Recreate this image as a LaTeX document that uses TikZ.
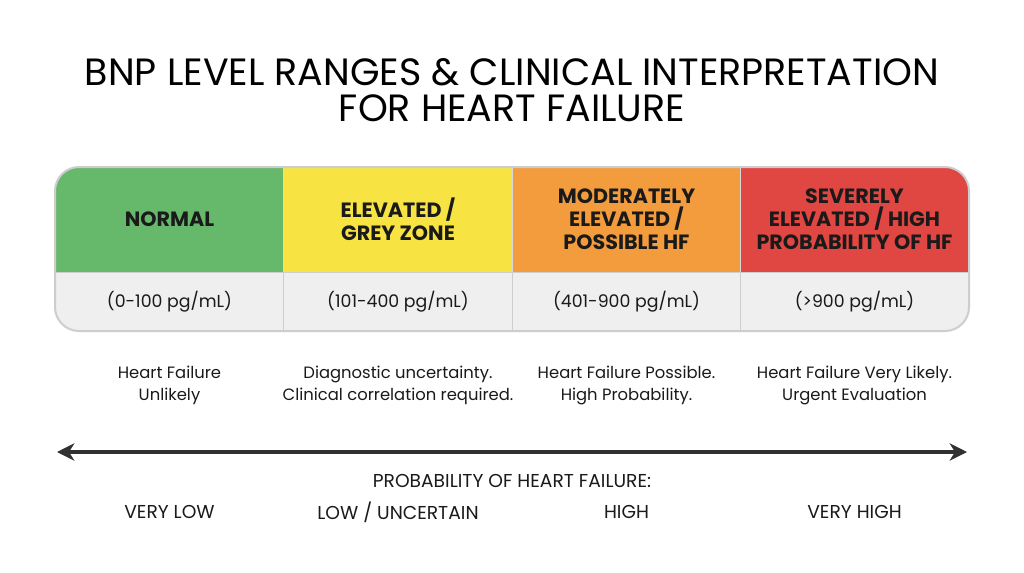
\documentclass[tikz,border=0pt]{standalone}
\usepackage{fontspec}
\setmainfont{Poppins}
\usetikzlibrary{arrows.meta}

\definecolor{normalgreen}{HTML}{66B96A}
\definecolor{zoneyellow}{HTML}{F7E443}
\definecolor{modorange}{HTML}{F39C3D}
\definecolor{sevred}{HTML}{E04743}
\definecolor{rowgrey}{HTML}{EFEFEF}
\definecolor{edgegrey}{HTML}{CDCDCD}
\definecolor{inkgrey}{HTML}{1A1A1A}

\begin{document}
\begin{tikzpicture}[x=0.75pt,y=0.75pt,yscale=-1,xscale=1,
    headcell/.style={minimum width=171.4pt, minimum height=78.75pt, inner sep=0pt, align=center,
      draw=white!85!black, line width=0.6pt, font=\fontsize{15.5}{17.3}\selectfont\bfseries, text=inkgrey},
    rangecell/.style={minimum width=171.4pt, minimum height=44.25pt, inner sep=0pt, fill=rowgrey,
      draw=edgegrey, line width=0.75pt, font=\fontsize{13}{15}\selectfont, text=inkgrey},
    notetext/.style={align=center, inner sep=0pt, font=\fontsize{12.3}{16.5}\selectfont, text=inkgrey},
    scaletext/.style={inner sep=0pt, font=\fontsize{14}{16}\selectfont, text=inkgrey}]
        \useasboundingbox[fill=white] (0,0) rectangle (1024,572);

        % Title
        \node[font=\fontsize{28.5}{27}\selectfont, text=black, align=center] (title) at (512,90)
          {BNP LEVEL RANGES \& CLINICAL INTERPRETATION\\FOR HEART FAILURE};

        % Table cells
        \begin{scope}
        \clip[rounded corners=18pt] (55,167) rectangle (969,331);
        \node[headcell, fill=normalgreen] (hdNormal) at (169.5,219.5) {NORMAL};
        \node[headcell, fill=zoneyellow] (hdGrey) at (398,219.5) {ELEVATED /\\GREY ZONE};
        \node[headcell, fill=modorange] (hdModerate) at (626.5,219.5) {MODERATELY\\ELEVATED /\\POSSIBLE HF};
        \node[headcell, fill=sevred] (hdSevere) at (854.5,219.5) {SEVERELY\\ELEVATED / HIGH\\PROBABILITY OF HF};
        \node[rangecell] (rgNormal) at (169.5,301.5) {(0-100 pg/mL)};
        \node[rangecell] (rgGrey) at (398,301.5) {(101-400 pg/mL)};
        \node[rangecell] (rgModerate) at (626.5,301.5) {(401-900 pg/mL)};
        \node[rangecell] (rgSevere) at (854.5,301.5) {(>900 pg/mL)};
        \end{scope}
        \draw[edgegrey, line width=1.5pt, rounded corners=18pt] (55,167) rectangle (969,331);

        % Interpretation notes
        \node[notetext] (ntNormal) at (169.5,385) {Heart Failure\\Unlikely};
        \node[notetext] (ntGrey) at (398,385) {Diagnostic uncertainty.\\Clinical correlation required.};
        \node[notetext] (ntModerate) at (626.5,385) {Heart Failure Possible.\\High Probability.};
        \node[notetext] (ntSevere) at (854.5,385) {Heart Failure Very Likely.\\Urgent Evaluation};

        % Probability scale
        \coordinate (scaleL) at (57,452);
        \coordinate (scaleR) at (967,452);
        \draw[{Stealth[length=13pt,width=13pt,inset=4pt]}-{Stealth[length=13pt,width=13pt,inset=4pt]}, line width=3pt, draw=inkgrey!90!white] (scaleL) -- (scaleR);
        \node[scaletext] (scaleTitle) at (512,481) {PROBABILITY OF HEART FAILURE:};
        \node[scaletext] (pVeryLow) at (169.5,512) {VERY LOW};
        \node[scaletext] (pLow) at (398,512) {LOW / UNCERTAIN};
        \node[scaletext] (pHigh) at (626.5,512) {HIGH};
        \node[scaletext] (pVeryHigh) at (854.5,512) {VERY HIGH};
\end{tikzpicture}
\end{document}
